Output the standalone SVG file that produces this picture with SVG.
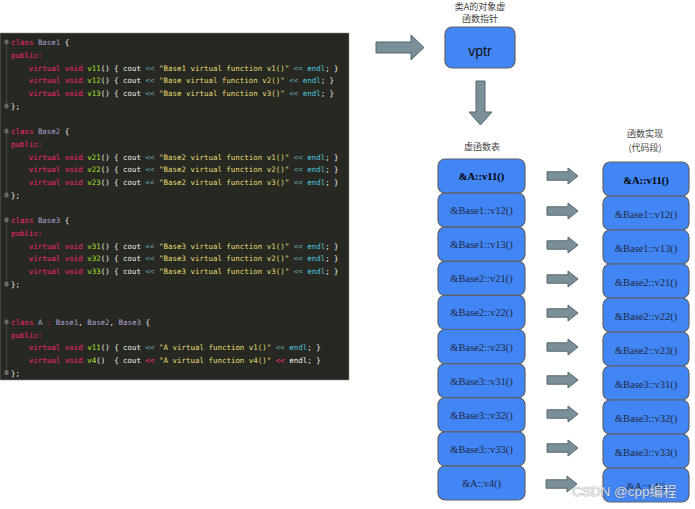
<svg xmlns="http://www.w3.org/2000/svg" width="695" height="509" viewBox="0 0 695 509">
<style>
.code{font-family:"DejaVu Sans Mono","Liberation Mono",monospace;font-size:7.45px;fill:#f0f0ea;white-space:pre}
.k{fill:#f92672}.c{fill:#a99fcf}.f{fill:#a6e22e}.s{fill:#e6db74}.o{fill:#5f9ea0}.e{fill:#4ec3dc}
.box{fill:#4285f4;stroke:#5f6368;stroke-width:1.2}
.lbl{font-family:"Liberation Serif","DejaVu Serif",serif;font-size:10.5px;fill:#1f2a44;text-anchor:middle}
.lb{font-weight:bold;fill:#000}
.cjk{font-family:"Noto Sans CJK SC",sans-serif;font-size:9px;fill:#444;text-anchor:middle}
.arr{fill:#7b8f98;stroke:#56666d;stroke-width:1}
.fold{fill:#6a6a64}
</style>
<defs>
<path id="sa" d="M0,-4.2 H21 V-8 L31,0 L21,8 V4.2 H0 Z"/>
</defs>
<g id="code">
<rect x="0" y="33" width="349" height="347" fill="#272822" stroke="#8a8a86" stroke-width="0.6"/>
<g stroke="#4a4a44" stroke-width="0.8">
<line x1="6.5" y1="45" x2="6.5" y2="106"/>
<line x1="6.5" y1="134" x2="6.5" y2="195"/>
<line x1="6.5" y1="223" x2="6.5" y2="284"/>
<line x1="6.5" y1="325" x2="6.5" y2="373"/>
</g>
<g class="fold">
<rect x="4.5" y="39.5" width="4" height="5" rx="1.5"/><rect x="4.5" y="103.5" width="4" height="5" rx="1.5"/>
<rect x="4.5" y="128.5" width="4" height="5" rx="1.5"/><rect x="4.5" y="192.5" width="4" height="5" rx="1.5"/>
<rect x="4.5" y="217.5" width="4" height="5" rx="1.5"/><rect x="4.5" y="281.5" width="4" height="5" rx="1.5"/>
<rect x="4.5" y="319.5" width="4" height="5" rx="1.5"/><rect x="4.5" y="370" width="4" height="5" rx="1.5"/>
</g>
<text class="code" x="11" y="45.1"><tspan class="k">class</tspan> <tspan class="c">Base1</tspan> {</text>
<text class="code" x="11" y="57.8"><tspan class="k">public:</tspan></text>
<text class="code" x="28.8" y="70.5" textLength="309.8" lengthAdjust="spacing"><tspan class="k">virtual void</tspan> <tspan class="f">v11</tspan>() { cout <tspan class="o">&lt;&lt;</tspan> <tspan class="s">"Base1 virtual function v1()"</tspan> <tspan class="o">&lt;&lt;</tspan> <tspan class="e">endl</tspan>; }</text>
<text class="code" x="28.8" y="83.3" textLength="305.3" lengthAdjust="spacing"><tspan class="k">virtual void</tspan> <tspan class="f">v12</tspan>() { cout <tspan class="o">&lt;&lt;</tspan> <tspan class="s">"Base virtual function v2()"</tspan> <tspan class="o">&lt;&lt;</tspan> <tspan class="e">endl</tspan>; }</text>
<text class="code" x="28.8" y="96.0" textLength="305.3" lengthAdjust="spacing"><tspan class="k">virtual void</tspan> <tspan class="f">v13</tspan>() { cout <tspan class="o">&lt;&lt;</tspan> <tspan class="s">"Base virtual function v3()"</tspan> <tspan class="o">&lt;&lt;</tspan> <tspan class="e">endl</tspan>; }</text>
<text class="code" x="11" y="108.7">};</text>
<text class="code" x="11" y="134.1"><tspan class="k">class</tspan> <tspan class="c">Base2</tspan> {</text>
<text class="code" x="11" y="146.9"><tspan class="k">public:</tspan></text>
<text class="code" x="28.8" y="159.6" textLength="309.8" lengthAdjust="spacing"><tspan class="k">virtual void</tspan> <tspan class="f">v21</tspan>() { cout <tspan class="o">&lt;&lt;</tspan> <tspan class="s">"Base2 virtual function v1()"</tspan> <tspan class="o">&lt;&lt;</tspan> <tspan class="e">endl</tspan>; }</text>
<text class="code" x="28.8" y="172.3" textLength="309.8" lengthAdjust="spacing"><tspan class="k">virtual void</tspan> <tspan class="f">v22</tspan>() { cout <tspan class="o">&lt;&lt;</tspan> <tspan class="s">"Base2 virtual function v2()"</tspan> <tspan class="o">&lt;&lt;</tspan> <tspan class="e">endl</tspan>; }</text>
<text class="code" x="28.8" y="185.0" textLength="309.8" lengthAdjust="spacing"><tspan class="k">virtual void</tspan> <tspan class="f">v23</tspan>() { cout <tspan class="o">&lt;&lt;</tspan> <tspan class="s">"Base2 virtual function v3()"</tspan> <tspan class="o">&lt;&lt;</tspan> <tspan class="e">endl</tspan>; }</text>
<text class="code" x="11" y="197.7">};</text>
<text class="code" x="11" y="223.2"><tspan class="k">class</tspan> <tspan class="c">Base3</tspan> {</text>
<text class="code" x="11" y="235.9"><tspan class="k">public:</tspan></text>
<text class="code" x="28.8" y="248.6" textLength="309.8" lengthAdjust="spacing"><tspan class="k">virtual void</tspan> <tspan class="f">v31</tspan>() { cout <tspan class="o">&lt;&lt;</tspan> <tspan class="s">"Base3 virtual function v1()"</tspan> <tspan class="o">&lt;&lt;</tspan> <tspan class="e">endl</tspan>; }</text>
<text class="code" x="28.8" y="261.3" textLength="309.8" lengthAdjust="spacing"><tspan class="k">virtual void</tspan> <tspan class="f">v32</tspan>() { cout <tspan class="o">&lt;&lt;</tspan> <tspan class="s">"Base3 virtual function v2()"</tspan> <tspan class="o">&lt;&lt;</tspan> <tspan class="e">endl</tspan>; }</text>
<text class="code" x="28.8" y="274.1" textLength="309.8" lengthAdjust="spacing"><tspan class="k">virtual void</tspan> <tspan class="f">v33</tspan>() { cout <tspan class="o">&lt;&lt;</tspan> <tspan class="s">"Base3 virtual function v3()"</tspan> <tspan class="o">&lt;&lt;</tspan> <tspan class="e">endl</tspan>; }</text>
<text class="code" x="11" y="286.8">};</text>
<text class="code" x="11" y="324.9"><tspan class="k">class</tspan> <tspan class="c">A</tspan> <tspan class="k">:</tspan> <tspan class="c">Base1</tspan>, <tspan class="c">Base2</tspan>, <tspan class="c">Base3</tspan> {</text>
<text class="code" x="11" y="337.7"><tspan class="k">public:</tspan></text>
<text class="code" x="28.8" y="350.4" textLength="291.9" lengthAdjust="spacing"><tspan class="k">virtual void</tspan> <tspan class="f">v11</tspan>() { cout <tspan class="o">&lt;&lt;</tspan> <tspan class="s">"A virtual function v1()"</tspan> <tspan class="o">&lt;&lt;</tspan> <tspan class="e">endl</tspan>; }</text>
<text class="code" x="28.8" y="363.1" textLength="291.9" lengthAdjust="spacing"><tspan class="k">virtual void</tspan> <tspan class="f">v4</tspan>()  { cout <tspan class="k">&lt;&lt;</tspan> <tspan class="s">"A virtual function v4()"</tspan> <tspan class="k">&lt;&lt;</tspan> endl; }</text>
<text class="code" x="11" y="375.8">};</text>
</g>
<g id="connectors" class="arr">
<path d="M376,42 H411 V35 L424,47.5 L411,60 V53 H376 Z"/>
<path d="M476,81 H485 V112 H492 L480.5,125 L469,112 H476 Z"/>
<use href="#sa" x="547" y="176"/>
<use href="#sa" x="547" y="211"/>
<use href="#sa" x="547" y="245"/>
<use href="#sa" x="547" y="279"/>
<use href="#sa" x="547" y="313"/>
<use href="#sa" x="547" y="347"/>
<use href="#sa" x="547" y="380"/>
<use href="#sa" x="547" y="414"/>
<use href="#sa" x="547" y="448"/>
<use href="#sa" x="546" y="484"/>
</g>
<g id="titles">
<text class="cjk" x="480" y="9.5">类A的对象虚</text>
<text class="cjk" x="480" y="22">函数指针</text>
<text class="cjk" x="482" y="150">虚函数表</text>
<text class="cjk" x="645" y="137">函数实现</text>
<text class="cjk" x="645" y="150.5">(代码段)</text>
</g>
<g id="vptr">
<rect class="box" x="445" y="27" width="70" height="41" rx="7"/>
<text x="480" y="56" font-family="Liberation Sans,Arial,sans-serif" font-size="14" fill="#111" text-anchor="middle">vptr</text>
</g>
<g id="vtable">
<g id="vt0"><rect class="box" x="438" y="159" width="87" height="34.1" rx="7"/><text class="lbl lb" x="481.5" y="180">&amp;A::v11()</text></g>
<g id="vt1"><rect class="box" x="438" y="193.1" width="87" height="34.1" rx="7"/><text class="lbl" x="481.5" y="214.1">&amp;Base1::v12()</text></g>
<g id="vt2"><rect class="box" x="438" y="227.2" width="87" height="34.1" rx="7"/><text class="lbl" x="481.5" y="248.2">&amp;Base1::v13()</text></g>
<g id="vt3"><rect class="box" x="438" y="261.3" width="87" height="34.1" rx="7"/><text class="lbl" x="481.5" y="282.3">&amp;Base2::v21()</text></g>
<g id="vt4"><rect class="box" x="438" y="295.4" width="87" height="34.1" rx="7"/><text class="lbl" x="481.5" y="316.4">&amp;Base2::v22()</text></g>
<g id="vt5"><rect class="box" x="438" y="329.5" width="87" height="34.1" rx="7"/><text class="lbl" x="481.5" y="350.5">&amp;Base2::v23()</text></g>
<g id="vt6"><rect class="box" x="438" y="363.6" width="87" height="34.1" rx="7"/><text class="lbl" x="481.5" y="384.6">&amp;Base3::v31()</text></g>
<g id="vt7"><rect class="box" x="438" y="397.7" width="87" height="34.1" rx="7"/><text class="lbl" x="481.5" y="418.7">&amp;Base3::v32()</text></g>
<g id="vt8"><rect class="box" x="438" y="431.8" width="87" height="34.1" rx="7"/><text class="lbl" x="481.5" y="452.8">&amp;Base3::v33()</text></g>
<g id="vt9"><rect class="box" x="438" y="465.9" width="87" height="34.1" rx="7"/><text class="lbl" x="481.5" y="486.9">&amp;A::v4()</text></g>
</g>
<g id="impl">
<g id="im0"><rect class="box" x="603" y="162" width="86" height="34" rx="7"/><text class="lbl lb" x="646" y="183.5">&amp;A::v11()</text></g>
<g id="im1"><rect class="box" x="603" y="196" width="86" height="34" rx="7"/><text class="lbl" x="646" y="217.5">&amp;Base1::v12()</text></g>
<g id="im2"><rect class="box" x="603" y="230" width="86" height="34" rx="7"/><text class="lbl" x="646" y="251.5">&amp;Base1::v13()</text></g>
<g id="im3"><rect class="box" x="603" y="264" width="86" height="34" rx="7"/><text class="lbl" x="646" y="285.5">&amp;Base2::v21()</text></g>
<g id="im4"><rect class="box" x="603" y="298" width="86" height="34" rx="7"/><text class="lbl" x="646" y="319.5">&amp;Base2::v22()</text></g>
<g id="im5"><rect class="box" x="603" y="332" width="86" height="34" rx="7"/><text class="lbl" x="646" y="353.5">&amp;Base2::v23()</text></g>
<g id="im6"><rect class="box" x="603" y="366" width="86" height="34" rx="7"/><text class="lbl" x="646" y="387.5">&amp;Base3::v31()</text></g>
<g id="im7"><rect class="box" x="603" y="400" width="86" height="34" rx="7"/><text class="lbl" x="646" y="421.5">&amp;Base3::v32()</text></g>
<g id="im8"><rect class="box" x="603" y="434" width="86" height="34" rx="7"/><text class="lbl" x="646" y="455.5">&amp;Base3::v33()</text></g>
<g id="im9"><rect class="box" x="603" y="468" width="86" height="34" rx="7"/><text class="lbl" x="646" y="489.5">&amp;A::v4()</text></g>
</g>
<text x="572" y="496" font-family="Liberation Sans,Noto Sans CJK SC,sans-serif" font-size="13.5" fill="#eeeeee" fill-opacity="0.85" stroke="#555" stroke-opacity="0.35" stroke-width="1.2" paint-order="stroke">CSDN @cpp编程</text>
</svg>
